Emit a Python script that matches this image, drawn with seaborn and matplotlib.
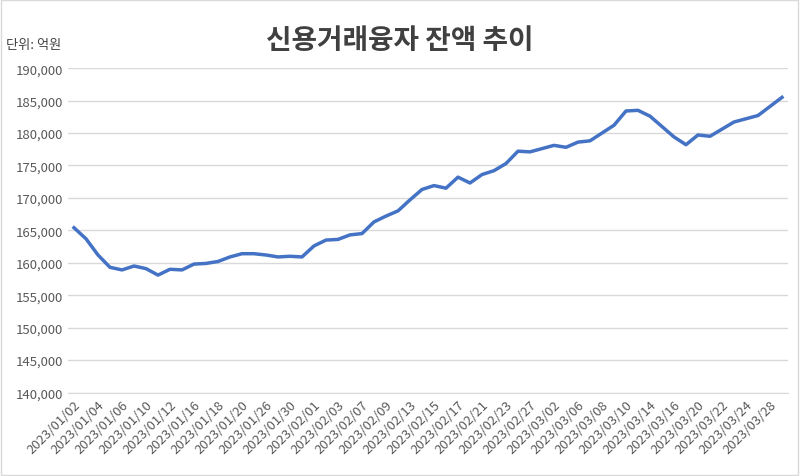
import matplotlib
matplotlib.use("Agg")
import matplotlib.pyplot as plt
import seaborn as sns
import pandas as pd
from matplotlib.ticker import FuncFormatter

plt.rcParams["font.family"] = "Noto Sans CJK KR"

dates = ["01/02", "01/03", "01/04", "01/05", "01/06", "01/09", "01/10", "01/11", "01/12", "01/13",
         "01/16", "01/17", "01/18", "01/19", "01/20", "01/25", "01/26", "01/27", "01/30", "01/31",
         "02/01", "02/02", "02/03", "02/06", "02/07", "02/08", "02/09", "02/10", "02/13", "02/14",
         "02/15", "02/16", "02/17", "02/20", "02/21", "02/22", "02/23", "02/24", "02/27", "02/28",
         "03/02", "03/03", "03/06", "03/07", "03/08", "03/09", "03/10", "03/13", "03/14", "03/15",
         "03/16", "03/17", "03/20", "03/21", "03/22", "03/23", "03/24", "03/27", "03/28", "03/29"]
dates = ["2023/" + d for d in dates]
balance = [165400, 163700, 161200, 159300, 158900, 159500, 159100, 158100, 159000, 158900,
           159800, 159900, 160200, 160900, 161400, 161400, 161200, 160900, 161000, 160900,
           162600, 163500, 163600, 164300, 164500, 166300, 167200, 168000, 169700, 171300,
           171900, 171500, 173200, 172300, 173600, 174200, 175300, 177200, 177100, 177600,
           178100, 177800, 178600, 178800, 180000, 181200, 183400, 183500, 182600, 181000,
           179400, 178200, 179700, 179500, 180600, 181700, 182200, 182700, 184100, 185500]

df = pd.DataFrame({"date": dates, "balance": balance, "idx": range(len(dates))})

fig = plt.figure(figsize=(8, 4.77), dpi=100)
ax = fig.add_axes([0.085, 0.175, 0.9, 0.68])
sns.lineplot(data=df, x="idx", y="balance", color="#4472C4", linewidth=2.5, ax=ax)

ax.set_ylim(140000, 190000)
ax.set_yticks(range(140000, 190001, 5000))
ax.yaxis.set_major_formatter(FuncFormatter(lambda v, p: f"{int(v):,}"))
ax.set_xlim(-0.5, len(dates) - 0.5)
ax.set_xticks(df["idx"][::2])
ax.set_xticklabels(df["date"][::2], rotation=45, ha="right", rotation_mode="anchor")
ax.tick_params(axis="both", labelsize=9.5, colors="#595959", length=0)
ax.grid(axis="y", color="#D9D9D9", linewidth=1)
ax.set_axisbelow(True)
for s in ["top", "right", "left"]:
    ax.spines[s].set_visible(False)
ax.spines["bottom"].set_color("#D9D9D9")
ax.set_xlabel("")
ax.set_ylabel("")

fig.text(0.5, 0.915, "신용거래융자 잔액 추이", ha="center", va="center",
         fontsize=20, fontweight="bold", color="#404040")
fig.text(0.008, 0.905, "단위: 억원", fontsize=9.5, color="#404040", va="center")
fig.patches.append(plt.Rectangle((0.001, 0.002), 0.997, 0.995, transform=fig.transFigure,
                                 fill=False, edgecolor="#D9D9D9", linewidth=1))

fig.savefig("out.png", dpi=100)
